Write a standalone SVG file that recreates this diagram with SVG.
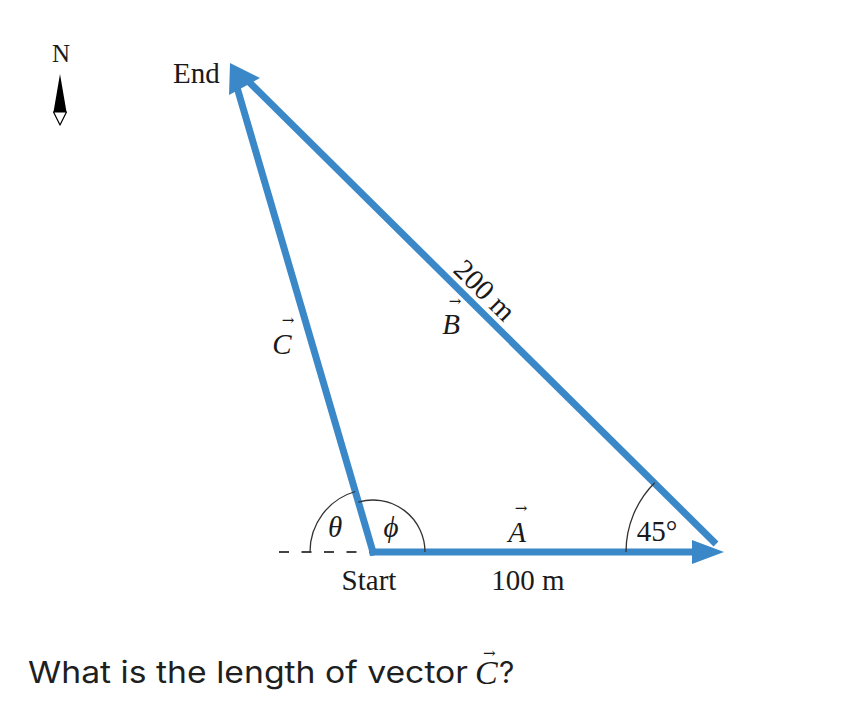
<svg xmlns="http://www.w3.org/2000/svg" width="864" height="706" viewBox="0 0 864 706">
<style>
.lbl{font-family:"Liberation Serif","Times New Roman",serif;font-size:29px;fill:#1a1a1a}
.it{font-style:italic}
.vec{font-family:"DejaVu Serif","Liberation Serif",serif;font-size:15px;font-style:normal}
.vline{stroke:#3b88c8;stroke-width:7;fill:none}
.head{fill:#3b88c8}
.arc{stroke:#333;stroke-width:1.3;fill:none}
.q{font-family:Inter,"Liberation Sans",sans-serif;font-size:30px;fill:#1f1f1f}
</style>
<rect width="864" height="706" fill="#fff"/>
<g id="compass">
<text class="lbl" x="61" y="62" text-anchor="middle" style="font-size:25px">N</text>
<polygon points="60,74 66.5,112 53.5,112" fill="#000"/>
<polygon points="53.5,112 66.5,112 60,125" fill="#fff" stroke="#000" stroke-width="1.2" stroke-linejoin="round"/>
</g>
<g id="connectors">
<line x1="279" y1="552" x2="370" y2="552" style="stroke:#444;stroke-width:1.8;stroke-dasharray:10 12.5"/>
<path id="vecC" class="vline" d="M373 552 L236 84" stroke-linecap="square"/>
<path id="vecA" class="vline" d="M373 552 L696 552" stroke-linecap="square"/>
<path id="vecB" class="vline" d="M716 544 L244 77"/>
<polygon class="head" points="230,63 229,95 260,78"/>
<polygon class="head" points="724,552 692,540 692,564"/>
<path class="arc" d="M310 552 A63 63 0 0 1 355.3 491.5"/>
<path class="arc" d="M358.4 502.1 A52 52 0 0 1 425 552"/>
<path class="arc" d="M626 552 A98 98 0 0 1 654.7 482.7"/>
</g>
<g id="labels">
<text class="lbl" x="173" y="83">End</text>
<text class="lbl" x="369" y="590" text-anchor="middle">Start</text>
<text class="lbl" x="528" y="590" text-anchor="middle">100 m</text>
<text class="lbl" x="657" y="541" text-anchor="middle">45°</text>
<text class="lbl it" x="335" y="537" text-anchor="middle">θ</text>
<text class="lbl it" x="391" y="537" text-anchor="middle">ϕ</text>
<text class="lbl it" text-anchor="middle"><tspan x="517" y="542">A</tspan><tspan class="vec" x="521" y="513">→</tspan></text>
<text class="lbl it" text-anchor="middle"><tspan x="451" y="334">B</tspan><tspan class="vec" x="455" y="306">→</tspan></text>
<text class="lbl it" text-anchor="middle"><tspan x="282" y="354">C</tspan><tspan class="vec" x="288" y="325">→</tspan></text>
<text class="lbl" transform="translate(485,290) rotate(45)" x="0" y="10" text-anchor="middle">200 m</text>
</g>
<g id="question">
<text class="q" x="28" y="683" textLength="440" lengthAdjust="spacingAndGlyphs">What is the length of vector</text>
<text class="lbl it" style="font-size:34px"><tspan x="475" y="684">C</tspan><tspan class="vec" x="483" y="658">→</tspan></text>
<text class="q" x="499" y="683">?</text>
</g>
</svg>
